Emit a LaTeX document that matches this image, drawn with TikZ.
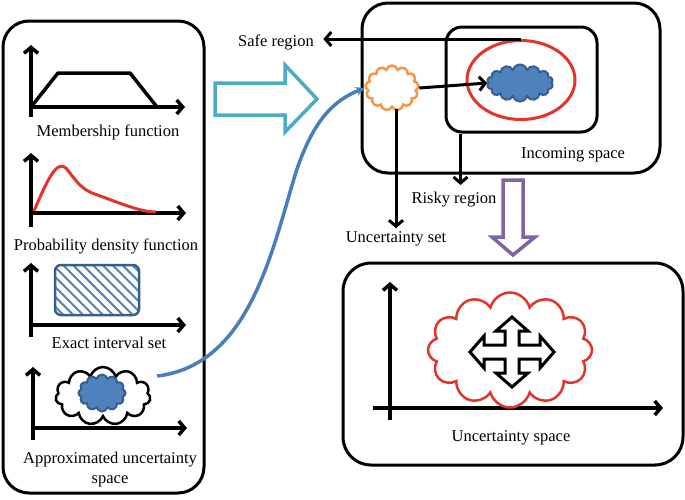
\documentclass[tikz,border=0pt]{standalone}
\usepackage{fontspec}
\setmainfont{Liberation Serif}
\usepackage{tikz}
\usetikzlibrary{arrows.meta,shapes.geometric,shapes.symbols,patterns.meta}
\definecolor{cloudblue}{HTML}{4F81BD}
\definecolor{cloudedge}{HTML}{385D8A}
\definecolor{curveblue}{HTML}{4A7EBB}
\definecolor{tealarrow}{HTML}{4BACC6}
\definecolor{violetarrow}{HTML}{8064A2}
\definecolor{riskred}{HTML}{E3342A}
\definecolor{setorange}{HTML}{F79646}

\begin{document}
\begin{tikzpicture}[x=1pt,y=-1pt,
    font=\fontsize{16.5}{20}\selectfont,
    >={Straight Barb[length=6pt,width=14pt]},
    box/.style={draw,line width=3pt,rounded corners=26pt,inner sep=0pt},
    axis/.style={->,line width=3.5pt},
    link/.style={->,line width=3pt},
    hollow/.style={line width=3.5pt,line join=miter},
    puff/.style={cloud,cloud ignores aspect,inner sep=0pt}]
    \useasboundingbox (0,0) rectangle (685,499);

    % left panel
    \node[box,minimum width=201,minimum height=472] (funcs) at (103.5,257) {};
    \draw[axis] (31,117) -- (31,45);
    \draw[axis] (31,107) -- (185,107);
    \draw[line width=3.5pt,line join=round] (31,107) -- (58,73) -- (130,73) -- (157,107);
    \node (memlbl) at (108,132) {Membership function};

    \draw[axis] (31,227) -- (31,153);
    \draw[axis] (31,213) -- (186,213);
    \draw[riskred,line width=3pt] (34,211) .. controls (48,178) and (57,160) .. (66,168)
        .. controls (74,178) and (80,188) .. (92,193) .. controls (120,203) and (140,212) .. (156,212);
    \node (pdflbl) at (106,246) {Probability density function};

    \draw[axis] (31,337) -- (31,263);
    \draw[axis] (31,325) -- (186,325);
    \node[draw=cloudedge,line width=2.5pt,rounded corners=6pt,minimum width=84,minimum height=50,
        pattern={Lines[angle=-45,distance=7pt,line width=2pt]},pattern color=cloudblue] (ivset) at (97,290) {};
    \node (ivlbl) at (109,343) {Exact interval set};

    \draw[axis] (33,440) -- (33,367);
    \draw[axis] (33,428) -- (187,428);
    \node[puff,draw,line width=2.5pt,cloud puffs=11,minimum width=95,minimum height=58] (approx) at (103,396) {};
    \node[puff,draw=cloudedge,fill=cloudblue,line width=2pt,cloud puffs=12,minimum width=47,minimum height=37] (approxblob) at (102,393) {};
    \node[align=center] (auslbl) at (110,470) {Approximated uncertainty\\space};

    % hollow arrows
    \draw[hollow,tealarrow] (215,83) -- (285,83) -- (285,65) -- (317,99) -- (285,132) -- (285,115) -- (215,115) -- cycle;
    \draw[hollow,violetarrow] (503,180) -- (523,180) -- (523,237) -- (535,237) -- (513,255) -- (492,237) -- (503,237) -- cycle;

    % incoming space
    \node[box,minimum width=298,minimum height=170] (incoming) at (511,88) {};
    \node[box,rounded corners=16pt,minimum width=151,minimum height=105] (inner) at (521.5,79.5) {};
    \node[ellipse,draw=riskred,line width=3pt,minimum width=108,minimum height=79] (safe) at (521,80) {};
    \node[puff,draw=cloudedge,fill=cloudblue,line width=2pt,cloud puffs=14,minimum width=66,minimum height=37] (blob) at (520,83) {};
    \node[puff,draw=setorange,line width=2.5pt,cloud puffs=13,minimum width=53,minimum height=45] (uset) at (392,88) {};
    \node (inclbl) at (573,155) {Incoming space};
    \node (safelbl) at (276,42) {Safe region};
    \node (risky) at (454,200) {Risky region};
    \node (usetlbl) at (396,239) {Uncertainty set};

    \draw[link] (safe.north) -- ([xshift=6pt]safelbl.east |- safe.north);
    \draw[link] (uset.east) -- (blob.west);
    \draw[link] ([xshift=4pt]uset.south) -- ([xshift=4pt]uset.south |- usetlbl.north);
    \draw[link] ([xshift=16pt]inner.south west) -- ([xshift=16pt,yshift=4pt]inner.south west |- risky.north);
    \draw[curveblue,line width=3.5pt,-{Stealth[length=9pt,width=9pt]}] ([xshift=6pt,yshift=20pt]approx.east)
        .. controls (250,365) and (272,250) .. (296,172) .. controls (314,118) and (335,100) .. (uset.west);

    % uncertainty space
    \node[box,rounded corners=28pt,minimum width=340,minimum height=202] (uspace) at (513,364) {};
    \draw[axis] (390,420) -- (390,282);
    \draw[axis] (373,408) -- (663,408);
    \node[puff,draw=riskred,line width=2.5pt,cloud puffs=12,minimum width=164,minimum height=115] (bigcloud) at (510,350) {};
    \draw[line width=3pt,line join=miter,shift={(512,352)}] (42,0) -- (28,16) -- (28,7) -- (7,7) -- (7,21) -- (16,21)
        -- (0,35) -- (-16,21) -- (-7,21) -- (-7,7) -- (-28,7) -- (-28,16) -- (-42,0) -- (-28,-16) -- (-28,-7)
        -- (-7,-7) -- (-7,-21) -- (-16,-21) -- (0,-35) -- (16,-21) -- (7,-21) -- (7,-7) -- (28,-7) -- (28,-16) -- cycle;
    \node (uspacelbl) at (511,438) {Uncertainty space};
\end{tikzpicture}
\end{document}
